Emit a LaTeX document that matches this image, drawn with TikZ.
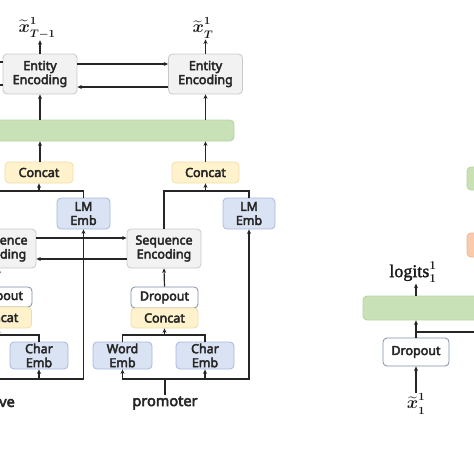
\documentclass[tikz,border=0pt]{standalone}
\usepackage{amsmath}
\usepackage{amssymb}
\usepackage{fontspec}
\newfontfamily\boxfont{Noto Sans}[FakeBold=3.5]
\newfontfamily\logitfont{Liberation Serif}[FakeBold=1.5]
\usepackage{tikz}
\usetikzlibrary{arrows.meta}
\usepackage{xcolor}
\definecolor{encfill}{HTML}{F2F2F2}
\definecolor{encline}{HTML}{C9C9C9}
\definecolor{embfill}{HTML}{DAE3F3}
\definecolor{embline}{HTML}{A6B8DA}
\definecolor{catfill}{HTML}{FFF2CC}
\definecolor{catline}{HTML}{F1DDA6}
\definecolor{barfill}{HTML}{C8E1B6}
\definecolor{barline}{HTML}{B6D5A2}
\definecolor{outfill}{HTML}{F8CBAD}
\definecolor{outline}{HTML}{EDB796}
\definecolor{dropline}{HTML}{7D8EA8}

\begin{document}
\begin{tikzpicture}[x=1pt,y=-1pt,
		>={Stealth[length=4.5pt,width=4pt]},
		conn/.style={line width=1.2pt,draw=black!85},
		box/.style={rounded corners=4pt,line width=0.8pt,inner sep=0pt,align=center,
			font=\boxfont\fontsize{12.5}{14}\selectfont,text=black!85},
		encbox/.style={box,fill=encfill,draw=encline,minimum width=74pt,minimum height=40pt},
		embbox/.style={box,fill=embfill,draw=embline,minimum width=58pt,minimum height=27pt},
		catbox/.style={box,fill=catfill,draw=catline,minimum width=67pt,minimum height=21pt},
		dropbox/.style={box,fill=white,draw=dropline,minimum width=67pt,minimum height=21pt},
		barbox/.style={box,fill=barfill,draw=barline},
		lbl/.style={inner sep=1pt,font=\boldmath\fontsize{16}{18}\selectfont,text=black!90},
		tok/.style={inner sep=1pt,font=\boxfont\fontsize{14.5}{16}\selectfont,text=black!85}]
		\clip (0,0) rectangle (474,474);
		% entity encoding row
		\node[encbox] (ent1) at (40,74) {Entity\\Encoding};
		\node[encbox] (ent2) at (205.5,74) {Entity\\Encoding};
		\node[lbl] (xt1) at (37,28) {$\widetilde{\boldsymbol{x}}^{\mathbf{1}}_{\boldsymbol{T-1}}$};
		\node[lbl] (xt2) at (203,28) {$\widetilde{\boldsymbol{x}}^{\mathbf{1}}_{\boldsymbol{T}}$};
		\node[barbox,minimum width=254pt,minimum height=21pt] (bar1) at (107,130.5) {};
		\node[catbox,minimum width=68pt] (cat1) at (39,172.5) {Concat};
		\node[catbox] (cat2) at (205.5,172.5) {Concat};
		\node[embbox,minimum width=53pt,minimum height=31pt] (lm1) at (83.5,213.5) {LM\\Emb};
		\node[embbox,minimum width=52pt,minimum height=31pt] (lm2) at (249,213.5) {LM\\Emb};
		% sequence encoding row
		\node[encbox,minimum height=39pt] (seq1) at (-1,248.5) {Sequence\\Encoding};
		\node[encbox,minimum height=39pt] (seq2) at (164,248.5) {Sequence\\Encoding};
		\node[dropbox,minimum height=20pt] (drop1) at (-1.5,297) {Dropout};
		\node[catbox] (cat3) at (-2,317.5) {Concat};
		\node[dropbox] (drop2) at (164.5,297.5) {Dropout};
		\node[catbox,minimum height=20pt] (cat4) at (164.5,318) {Concat};
		\node[embbox] (char1) at (39,355.5) {Char\\Emb};
		\node[embbox,minimum width=59pt] (word2) at (122.5,355.5) {Word\\Emb};
		\node[embbox] (char2) at (205,355.5) {Char\\Emb};
		\node[tok,anchor=east] (tok1) at (16,403) {ve};
		\node[tok] (tok2) at (165,403) {promoter};
		% right part
		\node[barbox,minimum width=137pt,minimum height=24pt] (bar2) at (431.5,308) {};
		\node[dropbox,minimum width=66pt,minimum height=28pt] (drop3) at (416,352) {Dropout};
		\node[lbl,font=\boldmath\fontsize{18}{20}\selectfont] (logit) at (413,272) {$\text{\logitfont logits}^{\mathbf{1}}_{\mathbf{1}}$};
		\node[lbl] (xin) at (416,404) {$\widetilde{\boldsymbol{x}}^{\mathbf{1}}_{\mathbf{1}}$};
		\node[barbox,minimum width=23pt,minimum height=23pt] (bar3) at (478.5,178.5) {};
		\node[box,fill=outfill,draw=outline,minimum width=23pt,minimum height=24pt] (out3) at (478.5,245) {};

		\coordinate (j1) at (39,191);
		\coordinate (j2) at (205.5,191);
		\coordinate (k1) at (-1,335);
		\coordinate (k2) at (164.5,335);
		\coordinate (p1) at (-1,379);
		\coordinate (p2) at (165,379);
		\coordinate (q3) at (416,332);
		\coordinate (r3) at (480,332);

		% connectors
		\draw[conn,->] (ent1.north) -- (xt1.south -| ent1);
		\draw[conn,->] (ent2.north) -- (xt2.south -| ent2);
		\draw[conn,->] ([yshift=10pt]ent1.east) -- ([yshift=10pt]ent2.west);
		\draw[conn,->] ([yshift=-13pt]ent2.west) -- ([yshift=-13pt]ent1.east);
		\draw[conn] ([yshift=12pt]ent1.west) -- +(-6,0);
		\draw[conn] ([yshift=-11pt]ent1.west) -- +(-6,0);
		\draw[conn,->] (bar1.north -| ent1) -- (ent1.south);
		\draw[conn,->] (bar1.north -| ent2) -- (ent2.south);
		\draw[conn,->] (cat1.north -| ent1) -- (bar1.south -| ent1);
		\draw[conn,->] (cat2.north) -- (bar1.south -| cat2);
		\draw[conn] (seq1.north) |- (j1) -| (lm1.north);
		\draw[conn,->] (j1) -- (cat1.south);
		\draw[conn] (seq2.north) |- (j2) -| (lm2.north);
		\draw[conn,->] (j2) -- (cat2.south);
		\draw[conn,->] ([yshift=10.5pt]seq1.east) -- ([yshift=10.5pt]seq2.west);
		\draw[conn,->] ([yshift=-10.5pt]seq2.west) -- ([yshift=-10.5pt]seq1.east);
		\draw[conn,->] (drop1.north) -- (seq1.south);
		\draw[conn,->] (drop2.north) -- (seq2.south);
		\draw[conn] (k1) -| (char1.north);
		\draw[conn,->] (k1) -- (cat3.south);
		\draw[conn] (word2.north) |- (k2) -| (char2.north);
		\draw[conn,->] (k2) -- (cat4.south);
		\draw[conn,->] (p1) -| (char1.south);
		\draw[conn,->] (p1) -| (lm1.south);
		\draw[conn] (tok2.north) -- (p2);
		\draw[conn,->] (p2) -| (word2.south);
		\draw[conn,->] (p2) -| (char2.south);
		\draw[conn,->] (p2) -| (lm2.south);
		\draw[conn,->] (xin.north) -- (drop3.south);
		\draw[conn,->] (drop3.north) -- (bar2.south -| drop3);
		\draw[conn] (q3) -- (r3);
		\draw[conn,->] (bar2.north -| drop3) -- (logit.south -| drop3);
\end{tikzpicture}
\end{document}
